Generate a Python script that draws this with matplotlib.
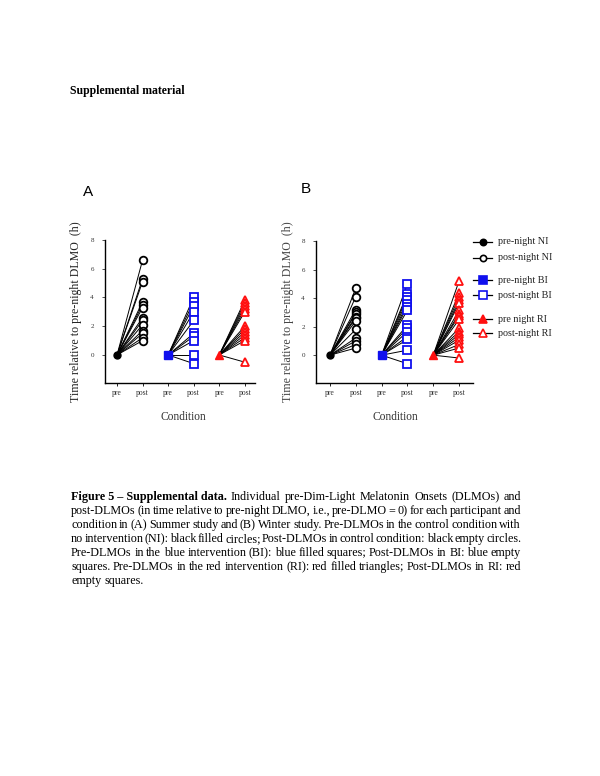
import matplotlib
matplotlib.use("Agg")
import matplotlib.pyplot as plt
from matplotlib.lines import Line2D

plt.rcParams['font.family'] = ['Liberation Serif', 'DejaVu Serif']

# ---- data ----
tick_labels = ["pre", "post", "pre", "post", "pre", "post"]
conditions = ["NI", "BI", "RI"]

a_ni_post = [6.6, 5.3, 5.1, 3.7, 3.5, 3.3, 2.6, 2.4, 2.1, 1.7, 1.5, 1.2, 1.0]
a_bi_post = [4.0, 3.7, 3.4, 3.0, 2.4, 1.5, 1.3, 1.0, 0.0, -0.6]
a_ri_post = [3.8, 3.6, 3.4, 3.2, 3.0, 2.0, 1.8, 1.6, 1.4, 1.2, 1.0, -0.5]

b_ni_post = [4.7, 4.1, 3.2, 3.0, 2.9, 2.7, 2.6, 2.4, 1.8, 1.2, 1.0, 0.75, 0.5]
b_bi_post = [5.0, 4.3, 4.1, 3.85, 3.6, 3.4, 3.15, 2.1, 1.9, 1.65, 1.3, 1.1, 0.35, -0.6]
b_ri_post = [5.2, 4.35, 4.1, 3.85, 3.65, 3.15, 2.9, 2.75, 2.5, 1.9, 1.65, 1.45,
             1.25, 1.05, 0.75, 0.5, -0.2]

pre_value = 0.0
colors = {"NI": "black", "BI": "#1010ee", "RI": "#ff1010"}
markers = {"NI": "o", "BI": "s", "RI": "^"}
legend_labels = ["pre-night NI", "post-night NI", "pre-night BI", "post-night BI",
                 "pre night RI", "post-night RI"]

W, H = 600, 776
fig = plt.figure(figsize=(6.0, 7.76), dpi=100)


def fx(px):
    return px / W


def fy(py):
    return 1 - py / H


def panel(rect, posts, xlim):
    ax = fig.add_axes(rect)
    for i, (cond, post) in enumerate(zip(conditions, posts)):
        xp, xq = 2 * i, 2 * i + 1
        c = colors[cond]
        m = markers[cond]
        for v in post:
            ax.plot([xp, xq], [pre_value, v], color="black", lw=0.7, zorder=1)
        ms_pre = 5 if cond == "NI" else 6
        ax.plot([xp], [pre_value], marker=m, color=c, ms=ms_pre, ls="none", zorder=3)
        ax.plot([xq] * len(post), post, marker=m, mfc="white", mec=c, mew=1.3,
                ms=5.5, ls="none", zorder=3)
    ax.set_xlim(*xlim)
    ax.set_ylim(-1.95, 8)
    ax.set_yticks([0, 2, 4, 6, 8])
    ax.set_xticks(range(6))
    ax.set_xticklabels(tick_labels, fontsize=5.5, color="#333333")
    ax.tick_params(axis="y", labelsize=5, length=2, width=0.6, pad=6, colors="#333333")
    ax.tick_params(axis="x", length=2, width=0.6, pad=2)
    for s in ["top", "right"]:
        ax.spines[s].set_visible(False)
    ax.spines["left"].set_bounds(-1.95, 8)
    for s in ["left", "bottom"]:
        ax.spines[s].set_linewidth(1.0)
    return ax


axA = panel([fx(105), fy(383), fx(255 - 105), (383 - 240) / H],
            [a_ni_post, a_bi_post, a_ri_post], (-0.47, 5.4))
axB = panel([fx(316), fy(383), fx(473 - 316), (383 - 241) / H],
            [b_ni_post, b_bi_post, b_ri_post], (-0.54, 5.54))

ylabel = "Time relative to pre-night DLMO  (h)"
fig.text(fx(76), fy(312), ylabel, rotation=90, ha="center", va="center",
         fontsize=8.6, color="#222222")
fig.text(fx(288), fy(312), ylabel, rotation=90, ha="center", va="center",
         fontsize=8.6, color="#444444")
fig.text(fx(183), fy(417), "Condition", ha="center", va="center", fontsize=8.3,
         color="#333333")
fig.text(fx(395), fy(417), "Condition", ha="center", va="center", fontsize=8.3,
         color="#333333")

fig.text(fx(88), fy(192), "A", ha="center", va="center", fontsize=11,
         family=["Liberation Sans", "DejaVu Sans"])
fig.text(fx(306), fy(189), "B", ha="center", va="center", fontsize=11,
         family=["Liberation Sans", "DejaVu Sans"])

# legend (manual, in figure coordinates)
leg_y = [242, 258, 280, 295, 319, 333]
leg_cond = ["NI", "NI", "BI", "BI", "RI", "RI"]
leg_fill = [True, False, True, False, True, False]
for yy, cond, filled, lab in zip(leg_y, leg_cond, leg_fill, legend_labels):
    c = colors[cond]
    fig.add_artist(Line2D([fx(473), fx(492)], [fy(yy), fy(yy)], color="black",
                          lw=0.9, transform=fig.transFigure))
    fig.add_artist(Line2D([fx(482.5)], [fy(yy)], marker=markers[cond],
                          mfc=(c if filled else "white"), mec=c, mew=1.2,
                          ms=(4.5 if cond == "NI" else 5.5), ls="none",
                          transform=fig.transFigure))
    fig.text(fx(498), fy(yy), lab, ha="left", va="center", fontsize=7.3,
             color="#222222")

fig.text(fx(70), fy(91), "Supplemental material", ha="left", va="center",
         fontsize=8.5, weight="bold")

cap_lines = [
    ("Figure 5 \u2013 Supplemental data.", "Individual pre-Dim-Light Melatonin Onsets (DLMOs) and"),
    ("", "post-DLMOs (in time relative to pre-night DLMO, i.e., pre-DLMO = 0) for each participant and"),
    ("", "condition in (A) Summer study and (B) Winter study.  Pre-DLMOs in the control condition with"),
    ("", "no intervention (NI): black filled circles; Post-DLMOs in control condition: black empty circles."),
    ("", "Pre-DLMOs in the blue intervention (BI): blue filled squares; Post-DLMOs in BI: blue empty"),
    ("", "squares. Pre-DLMOs in the red intervention (RI): red filled triangles; Post-DLMOs in RI: red"),
    ("", "empty squares."),
]
cap_y = [497, 511, 525, 539, 553, 567, 581]
left_px, right_px = 71, 521
fs = 8.7
fig.canvas.draw()
renderer = fig.canvas.get_renderer()


def width_of(s, **kw):
    t = fig.text(0, 0, s, fontsize=fs, **kw)
    w = t.get_window_extent(renderer=renderer).width
    t.remove()
    return w


for idx, ((bold, rest), yy) in enumerate(zip(cap_lines, cap_y)):
    words = []
    if bold:
        words.append((bold, {"weight": "bold"}))
    words += [(w, {}) for w in rest.split()]
    widths = [width_of(w, **kw) for w, kw in words]
    last = idx == len(cap_lines) - 1
    space = width_of("a a") - width_of("aa")
    if last:
        gap = space
    else:
        gap = (right_px - left_px - sum(widths)) / (len(words) - 1)
    x = left_px
    for (w, kw), wd in zip(words, widths):
        fig.text(fx(x), fy(yy), w, ha="left", va="center", fontsize=fs, **kw)
        x += wd + gap

fig.savefig("out.png", dpi=100)
